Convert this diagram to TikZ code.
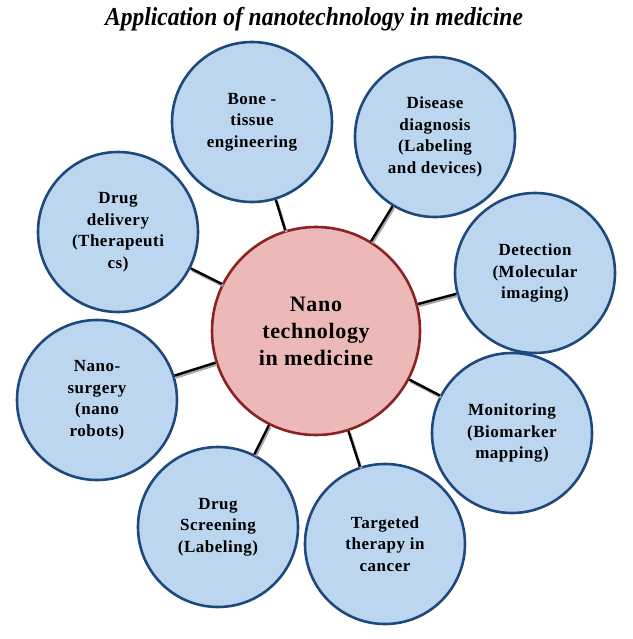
\documentclass[tikz,border=0pt]{standalone}
\usepackage{fontspec}
\setmainfont{Liberation Serif}
\newfontfamily\leaffont[LetterSpace=3]{Liberation Serif}
\usetikzlibrary{positioning}

\definecolor{leaffill}{RGB}{187,214,238}
\definecolor{leafdraw}{RGB}{31,73,125}
\definecolor{hubfill}{RGB}{236,184,184}
\definecolor{hubdraw}{RGB}{140,35,35}

\tikzset{
	leaf/.style={circle, draw=leafdraw, fill=leaffill, line width=2.6pt,
		minimum size=160pt, inner sep=0pt, align=center,
		font=\leaffont\bfseries\fontsize{17}{21.5}\selectfont},
	hub/.style={circle, draw=hubdraw, fill=hubfill, line width=2.6pt,
		minimum size=208pt, inner sep=0pt, align=center,
		font=\leaffont\bfseries\fontsize{22}{27}\selectfont},
	link/.style={draw=black, line width=2.4pt},
	linkshade/.style={draw=black!35, line width=2.6pt},
}

\begin{document}
\begin{tikzpicture}[x=1pt,y=-1pt]
\useasboundingbox (0,0) rectangle (632,639);

	% title
\node[yscale=1.1] (title) at (314,19) {\fontsize{23.5}{27}\selectfont\bfseries\itshape Application of nanotechnology in medicine};

	% hub
\path (316,331) node[hub] (nano) {Nano\\technology\\in medicine};

	% leaves
\path
	(252,122) node[leaf] (bone) {Bone -\\tissue\\engineering}
	(435,137) node[leaf] (diag) {Disease\\diagnosis\\(Labeling\\and devices)}
	(535,273) node[leaf] (detect) {Detection\\(Molecular\\imaging)}
	(512,433) node[leaf] (monitor) {Monitoring\\(Biomarker\\mapping)}
	(385,544) node[leaf] (cancer) {Targeted\\therapy in\\cancer}
	(218,527) node[leaf] (screen) {Drug\\Screening\\(Labeling)}
	(97,400) node[leaf] (surgery) {Nano-\\surgery\\(nano\\robots)}
	(118,232) node[leaf] (delivery) {Drug\\delivery\\(Therapeuti\\cs)}
	;

	% connectors
\begin{scope}[on background layer/.try]
\foreach \n in {bone,diag,detect,monitor,cancer,screen,surgery,delivery}{
	\draw[linkshade, transform canvas={shift={(1.2pt,-1.8pt)}}] (nano) -- (\n);
	\draw[link] (nano) -- (\n);
}
\end{scope}
\end{tikzpicture}
\end{document}
